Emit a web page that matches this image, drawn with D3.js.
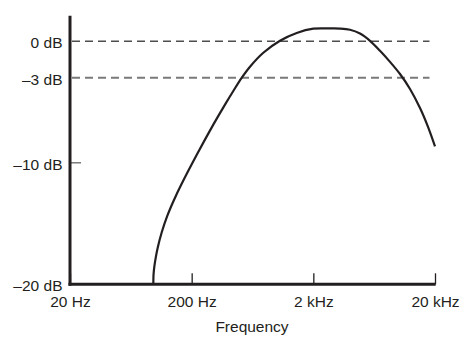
<!DOCTYPE html>
<html>
<head>
<meta charset="utf-8">
<script src="https://cdn.jsdelivr.net/npm/d3@7"></script>
<style>
  html, body { margin: 0; padding: 0; background: #fff; }
  svg { display: block; }
  text { font-family: "Liberation Sans", Arial, Helvetica, sans-serif; fill: #231f20; }
</style>
</head>
<body>
<svg id="chart" width="472" height="343"></svg>
<script>
// ---- data ----
const freqHz = [96.8, 97.3, 98.8, 101.5, 105.4, 113.7, 125.6, 142.2, 164.8, 222.5, 301.2, 375.8, 439.8, 515, 603, 776, 1064, 1460, 2000, 2742, 3312, 4002, 4838, 5846, 7062, 8534, 10314, 12464, 15062, 17520, 20000];
const levelDb = [-20, -19.14, -18.51, -17.76, -16.95, -15.70, -14.41, -13.12, -11.77, -9.26, -6.86, -5.21, -4.09, -3.01, -2.09, -0.94, 0.05, 0.69, 1.04, 1.06, 1.05, 0.95, 0.64, 0.04, -0.78, -1.69, -2.69, -3.92, -5.49, -7.04, -8.65];
const xTickValues = [20, 200, 2000, 20000];
const xTickLabels = ["20 Hz", "200 Hz", "2 kHz", "20 kHz"];
const yTickValues = [0, -3, -10, -20];
const yTickLabels = ["0 dB", "\u20133 dB", "\u201310 dB", "\u201320 dB"];
const refLevels = [0, -3];
const xTitle = "Frequency";

// ---- scales ----
const svg = d3.select("#chart");
const x = d3.scaleLog().domain([20, 20000]).range([70, 435]);
const y = d3.scaleLinear().domain([-20, 2.1]).range([284.3, 15.8]);
const ink = "#231f20";

// reference dashed lines
const refStyle = { "0": { c: "#4d4d4d", w: 1.5 }, "-3": { c: "#7a7a7a", w: 1.8 } };
svg.append("g").selectAll("line").data(refLevels).join("line")
  .attr("x1", x(20) + 2).attr("x2", 429.5)
  .attr("y1", d => y(d)).attr("y2", d => y(d))
  .attr("stroke", d => refStyle[d].c)
  .attr("stroke-width", d => refStyle[d].w)
  .attr("stroke-dasharray", "8,5");

// -10 dB small tick
svg.append("line")
  .attr("x1", x(20)).attr("x2", x(20) + 11)
  .attr("y1", y(-10)).attr("y2", y(-10))
  .attr("stroke", "#666").attr("stroke-width", 1.3);

// curve
const pts = freqHz.map((f, i) => [f, levelDb[i]]);
const line = d3.line().x(d => x(d[0])).y(d => y(d[1])).curve(d3.curveCatmullRom.alpha(0.5));
svg.append("path").datum(pts)
  .attr("d", line)
  .attr("fill", "none")
  .attr("stroke", ink)
  .attr("stroke-width", 2.2)
  .attr("stroke-linecap", "butt");

// x axis
const xAxis = d3.axisBottom(x)
  .tickValues(xTickValues)
  .tickFormat((d, i) => xTickLabels[i])
  .tickSize(-11)
  .tickSizeOuter(0)
  .tickPadding(12);
const gx = svg.append("g").attr("transform", `translate(0,${y(-20)})`).call(xAxis);
gx.select(".domain").remove();
gx.selectAll(".tick line").attr("stroke", ink).attr("stroke-width", 1.3);
gx.selectAll(".tick text").attr("font-size", "15.5px").attr("fill", ink)
  .attr("font-family", "'Liberation Sans', Arial, sans-serif");

// y axis
const yAxis = d3.axisLeft(y)
  .tickValues(yTickValues)
  .tickFormat((d, i) => yTickLabels[i])
  .tickSize(0)
  .tickSizeOuter(0)
  .tickPadding(7.5);
const gy = svg.append("g").attr("transform", `translate(${x(20)},0)`).call(yAxis);
gy.select(".domain").remove();
gy.selectAll(".tick text").attr("font-size", "15.5px").attr("fill", ink)
  .attr("dy", "0.42em")
  .attr("font-family", "'Liberation Sans', Arial, sans-serif");

// axis lines (thick)
svg.append("line")
  .attr("x1", x(20)).attr("x2", x(20))
  .attr("y1", y(2.1)).attr("y2", y(-20) + 1.5)
  .attr("stroke", ink).attr("stroke-width", 3);
svg.append("line")
  .attr("x1", x(20) - 1.5).attr("x2", x(20000) + 0.7)
  .attr("y1", y(-20)).attr("y2", y(-20))
  .attr("stroke", ink).attr("stroke-width", 3);

// x title
svg.append("text")
  .attr("x", (x(20) + x(20000)) / 2 - 0.5)
  .attr("y", 331.5)
  .attr("text-anchor", "middle")
  .attr("font-size", "15.5px")
  .text(xTitle);
</script>
</body>
</html>
